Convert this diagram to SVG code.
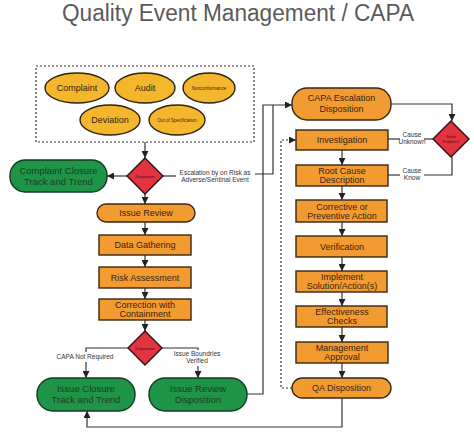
<svg xmlns="http://www.w3.org/2000/svg" width="474" height="434" viewBox="0 0 474 434">
<defs>
<style>
text{font-family:"Liberation Sans",Arial,sans-serif;text-anchor:middle}
.title{font-size:23px;fill:#5a5a5a}
.ell{fill:#F4B62C;stroke:#2b2410;stroke-width:1.4}
.org{fill:#F29B30;stroke:#3a2612;stroke-width:1.4}
.grn{fill:#1E9447;stroke:#143b22;stroke-width:1.4}
.red{fill:#E2343F;stroke:#2a1010;stroke-width:1.4}
.t{font-size:9px;fill:#3a2410}
.tg{font-size:9.5px;fill:#1d3f25}
.ts{font-size:4.5px;fill:#3a2410}
.td{font-size:4px;fill:#4a0c10}
.lbl{font-size:6.5px;fill:#333}
.c{fill:none;stroke:#333;stroke-width:1.2}
.d{fill:none;stroke:#333;stroke-width:1.2;stroke-dasharray:2,2}
</style>
<marker id="ah" markerUnits="userSpaceOnUse" markerWidth="7" markerHeight="7" refX="7" refY="3.5" orient="auto">
<path d="M0,0 L7,3.5 L0,7 z" fill="#222"/>
</marker>
</defs>
<rect width="474" height="434" fill="#fff"/>
<text class="title" x="238" y="21" textLength="352" lengthAdjust="spacingAndGlyphs">Quality Event Management / CAPA</text>

<g id="connectors">
<path class="c" marker-end="url(#ah)" d="M145,142 V158"/>
<path class="c" marker-end="url(#ah)" d="M127,176 H107"/>
<path class="c" d="M163,176 H176"/>
<path class="c" d="M255,174 H273 V105"/>
<path class="c" marker-end="url(#ah)" d="M145,194 V204"/>
<path class="c" marker-end="url(#ah)" d="M145,222 V235"/>
<path class="c" marker-end="url(#ah)" d="M145,255 V267"/>
<path class="c" marker-end="url(#ah)" d="M145,288 V299"/>
<path class="c" marker-end="url(#ah)" d="M145,320 V331"/>
<path class="c" d="M128,348 H86 V352"/>
<path class="c" marker-end="url(#ah)" d="M86,362 V378"/>
<path class="c" d="M162,348 H198 V350"/>
<path class="c" marker-end="url(#ah)" d="M198,366 V378"/>
<path class="c" marker-end="url(#ah)" d="M247,394 H263 V105 H292"/>
<path class="c" marker-end="url(#ah)" d="M391,104 H452 V121"/>
<path class="c" d="M433,139 H424"/>
<path class="c" d="M400,139 H388"/>
<path class="c" d="M388,175 H400"/>
<path class="c" d="M424,175 H452 V157"/>
<path class="c" marker-end="url(#ah)" d="M342,150 V165"/>
<path class="c" marker-end="url(#ah)" d="M342,186 V200"/>
<path class="c" marker-end="url(#ah)" d="M342,222 V236"/>
<path class="c" marker-end="url(#ah)" d="M342,257 V271"/>
<path class="c" marker-end="url(#ah)" d="M342,292 V306"/>
<path class="c" marker-end="url(#ah)" d="M342,327 V342"/>
<path class="c" marker-end="url(#ah)" d="M342,363 V378"/>
<path class="c" marker-end="url(#ah)" d="M342,398 V427 H87 V411"/>
<path class="d" marker-end="url(#ah)" d="M292,388 H281 V140 H296"/>
<text class="lbl" x="215" y="175">Escalation by on Risk as</text>
<text class="lbl" x="215" y="182">Adverse/Sentinal Event</text>
<text class="lbl" x="85" y="359">CAPA Not Required</text>
<text class="lbl" x="197" y="356">Issue Boundries</text>
<text class="lbl" x="197" y="363">Verified</text>
<text class="lbl" x="412" y="137">Cause</text>
<text class="lbl" x="412" y="144">Unknown</text>
<text class="lbl" x="412" y="173">Cause</text>
<text class="lbl" x="412" y="180">Know</text>
</g>

<g id="sources">
<rect x="36" y="66" width="218" height="76" fill="none" stroke="#333" stroke-width="1.2" stroke-dasharray="2,2"/>
<g id="complaint"><ellipse class="ell" cx="77" cy="88" rx="32" ry="15"/><text class="t" x="77" y="91">Complaint</text></g>
<g id="audit"><ellipse class="ell" cx="145" cy="88" rx="30" ry="15"/><text class="t" x="145" y="91">Audit</text></g>
<g id="nonconformance"><ellipse class="ell" cx="209" cy="88" rx="26" ry="15"/><text class="ts" x="209" y="90">Nonconformance</text></g>
<g id="deviation"><ellipse class="ell" cx="110" cy="120" rx="30" ry="15"/><text class="t" x="110" y="123">Deviation</text></g>
<g id="oos"><ellipse class="ell" cx="177" cy="120" rx="28" ry="15"/><text class="ts" x="177" y="122">Out of Specification</text></g>
</g>

<g id="disposition1"><path class="red" d="M145,158 L163,176 L145,194 L127,176 Z"/><text class="td" x="145" y="177.5">Disposition</text></g>
<g id="complaint-closure"><rect class="grn" x="10" y="160" width="97" height="32" rx="15"/><text class="tg" x="58.5" y="173.5">Complaint Closure</text><text class="tg" x="58.5" y="184.5">Track and Trend</text></g>
<g id="issue-review"><rect class="org" x="97" y="204" width="98" height="18" rx="9"/><text class="t" x="146" y="216">Issue Review</text></g>
<g id="data-gathering"><rect class="org" x="99" y="235" width="92" height="20"/><text class="t" x="145" y="248">Data Gathering</text></g>
<g id="risk-assessment"><rect class="org" x="99" y="267" width="92" height="21"/><text class="t" x="145" y="280.5">Risk Assessment</text></g>
<g id="correction"><rect class="org" x="99" y="299" width="92" height="21"/><text class="t" x="145" y="308">Correction with</text><text class="t" x="145" y="317">Containment</text></g>
<g id="disposition2"><path class="red" d="M145,331 L162,348 L145,365 L128,348 Z"/><text class="td" x="145" y="349.5">Disposition</text></g>
<g id="issue-closure"><rect class="grn" x="37" y="378" width="98" height="33" rx="16"/><text class="tg" x="86" y="392">Issue Closure</text><text class="tg" x="86" y="403">Track and Trend</text></g>
<g id="issue-review-disposition"><rect class="grn" x="149" y="378" width="98" height="33" rx="16"/><text class="tg" x="198" y="392">Issue Review</text><text class="tg" x="198" y="403">Disposition</text></g>

<g id="capa-escalation"><rect class="org" x="292" y="88" width="99" height="32" rx="15"/><text class="t" x="341.5" y="101">CAPA Escalation</text><text class="t" x="341.5" y="112">Disposition</text></g>
<g id="solve-problem"><path class="red" d="M451,121 L469,139 L451,157 L433,139 Z"/><text class="td" x="451" y="138">Solve</text><text class="td" x="451" y="143">Problem?</text></g>
<g id="investigation"><rect class="org" x="296" y="130" width="92" height="20"/><text class="t" x="342" y="143">Investigation</text></g>
<g id="root-cause"><rect class="org" x="296" y="165" width="92" height="21"/><text class="t" x="342" y="174">Root Cause</text><text class="t" x="342" y="183">Description</text></g>
<g id="corrective"><rect class="org" x="296" y="200" width="91" height="22"/><text class="t" x="342" y="209.5">Corrective or</text><text class="t" x="342" y="218.5">Preventive Action</text></g>
<g id="verification"><rect class="org" x="296" y="236" width="91" height="21"/><text class="t" x="342" y="249.5">Verification</text></g>
<g id="implement"><rect class="org" x="296" y="271" width="91" height="21"/><text class="t" x="342" y="280">Implement</text><text class="t" x="342" y="289">Solution/Action(s)</text></g>
<g id="effectiveness"><rect class="org" x="296" y="306" width="91" height="21"/><text class="t" x="342" y="315">Effectiveness</text><text class="t" x="342" y="324">Checks</text></g>
<g id="management-approval"><rect class="org" x="296" y="342" width="92" height="21"/><text class="t" x="342" y="351">Management</text><text class="t" x="342" y="360">Approval</text></g>
<g id="qa-disposition"><rect class="org" x="292" y="378" width="99" height="20" rx="10"/><text class="t" x="341.5" y="391">QA Disposition</text></g>
</svg>
